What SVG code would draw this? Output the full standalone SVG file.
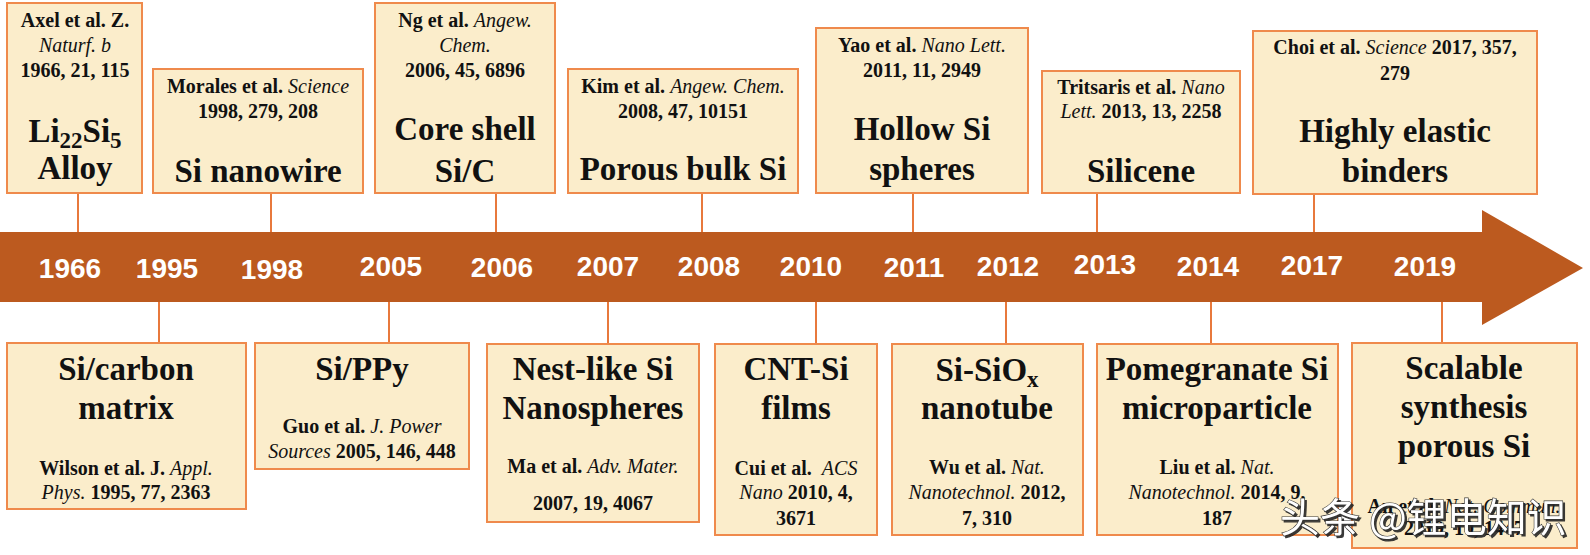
<svg xmlns="http://www.w3.org/2000/svg" width="1590" height="555" viewBox="0 0 1590 555">
<style>
.box{fill:#FBEDCB;stroke:#EF8A4C;stroke-width:2}
.con{stroke:#E8793C;stroke-width:2;fill:none}
.yr{font-family:"Liberation Sans",Arial,sans-serif;font-weight:bold;font-size:28px;fill:#FFFFFF;text-anchor:middle}
.ct{font-family:"Liberation Serif","Times New Roman",serif;font-weight:bold;font-size:20px;fill:#111;text-anchor:middle}
.ct .i{font-style:italic;font-weight:normal}
.tt{font-family:"Liberation Serif","Times New Roman",serif;font-weight:bold;font-size:33px;fill:#111;text-anchor:middle}
.wm{font-family:"Noto Sans CJK SC",sans-serif;font-size:40px;fill:#FFFFFF;stroke:#333333;stroke-width:1.2;paint-order:stroke}
</style>
<defs>
<filter id="sh" x="-5%" y="-20%" width="110%" height="140%">
<feDropShadow dx="2" dy="2" stdDeviation="0.6" flood-color="#222222" flood-opacity="0.9"/>
</filter>
</defs>
<rect width="1590" height="555" fill="#FFFFFF"/>
<g id="timeline">
<polygon points="0,232 1482,232 1482,210 1583,268 1482,325 1482,302 0,302" fill="#BC5A1F"/>
<text class="yr" x="70" y="278">1966</text>
<text class="yr" x="167" y="278">1995</text>
<text class="yr" x="272" y="279">1998</text>
<text class="yr" x="391" y="276">2005</text>
<text class="yr" x="502" y="277">2006</text>
<text class="yr" x="608" y="276">2007</text>
<text class="yr" x="709" y="276">2008</text>
<text class="yr" x="811" y="276">2010</text>
<text class="yr" x="914" y="277">2011</text>
<text class="yr" x="1008" y="276">2012</text>
<text class="yr" x="1105" y="274">2013</text>
<text class="yr" x="1208" y="276">2014</text>
<text class="yr" x="1312" y="275">2017</text>
<text class="yr" x="1425" y="276">2019</text>
</g>
<g id="connectors">
<line class="con" x1="78" y1="193" x2="78" y2="232"/>
<line class="con" x1="271" y1="193" x2="271" y2="232"/>
<line class="con" x1="496" y1="193" x2="496" y2="232"/>
<line class="con" x1="702" y1="193" x2="702" y2="232"/>
<line class="con" x1="913" y1="193" x2="913" y2="232"/>
<line class="con" x1="1097" y1="193" x2="1097" y2="232"/>
<line class="con" x1="1314" y1="194" x2="1314" y2="232"/>
<line class="con" x1="159" y1="302" x2="159" y2="343"/>
<line class="con" x1="389" y1="302" x2="389" y2="343"/>
<line class="con" x1="608" y1="302" x2="608" y2="344"/>
<line class="con" x1="816" y1="302" x2="816" y2="344"/>
<line class="con" x1="1006" y1="302" x2="1006" y2="344"/>
<line class="con" x1="1211" y1="302" x2="1211" y2="344"/>
<line class="con" x1="1442" y1="302" x2="1442" y2="343"/>
</g>
<g id="n1966">
<rect class="box" x="7" y="3" width="135" height="190"/>
<text class="ct" x="75" y="27">Axel et al. Z.</text>
<text class="ct" x="75" y="52"><tspan class="i">Naturf. b</tspan></text>
<text class="ct" x="75" y="77">1966, 21, 115</text>
<text class="tt" x="75" y="142">Li<tspan font-size="23" dy="6">22</tspan><tspan dy="-6">Si</tspan><tspan font-size="23" dy="6">5</tspan></text>
<text class="tt" x="75" y="179">Alloy</text>
</g>
<g id="n1998">
<rect class="box" x="153" y="69" width="210" height="124"/>
<text class="ct" x="258" y="93">Morales et al. <tspan class="i">Science</tspan></text>
<text class="ct" x="258" y="118">1998, 279, 208</text>
<text class="tt" x="258" y="182">Si nanowire</text>
</g>
<g id="n2006">
<rect class="box" x="375" y="3" width="180" height="190"/>
<text class="ct" x="465" y="27">Ng et al. <tspan class="i">Angew.</tspan></text>
<text class="ct" x="465" y="52"><tspan class="i">Chem.</tspan></text>
<text class="ct" x="465" y="77">2006, 45, 6896</text>
<text class="tt" x="465" y="140">Core shell</text>
<text class="tt" x="465" y="182">Si/C</text>
</g>
<g id="n2008">
<rect class="box" x="568" y="69" width="230" height="124"/>
<text class="ct" x="683" y="93">Kim et al. <tspan class="i">Angew. Chem.</tspan></text>
<text class="ct" x="683" y="118">2008, 47, 10151</text>
<text class="tt" x="683" y="180">Porous bulk Si</text>
</g>
<g id="n2011">
<rect class="box" x="816" y="28" width="212" height="165"/>
<text class="ct" x="922" y="52">Yao et al. <tspan class="i">Nano Lett.</tspan></text>
<text class="ct" x="922" y="77">2011, 11, 2949</text>
<text class="tt" x="922" y="140">Hollow Si</text>
<text class="tt" x="922" y="180">spheres</text>
</g>
<g id="n2013">
<rect class="box" x="1042" y="71" width="198" height="122"/>
<text class="ct" x="1141" y="94">Tritsaris et al. <tspan class="i">Nano</tspan></text>
<text class="ct" x="1141" y="118"><tspan class="i">Lett.</tspan> 2013, 13, 2258</text>
<text class="tt" x="1141" y="182">Silicene</text>
</g>
<g id="n2017">
<rect class="box" x="1253" y="31" width="284" height="163"/>
<text class="ct" x="1395" y="54">Choi et al. <tspan class="i">Science</tspan> 2017, 357,</text>
<text class="ct" x="1395" y="80">279</text>
<text class="tt" x="1395" y="142">Highly elastic</text>
<text class="tt" x="1395" y="182">binders</text>
</g>
<g id="n1995">
<rect class="box" x="7" y="343" width="239" height="166"/>
<text class="tt" x="126" y="380">Si/carbon</text>
<text class="tt" x="126" y="419">matrix</text>
<text class="ct" x="126" y="475">Wilson et al. J. <tspan class="i">Appl.</tspan></text>
<text class="ct" x="126" y="499"><tspan class="i">Phys.</tspan> 1995, 77, 2363</text>
</g>
<g id="n2005">
<rect class="box" x="255" y="343" width="214" height="126"/>
<text class="tt" x="362" y="380">Si/PPy</text>
<text class="ct" x="362" y="433">Guo et al. <tspan class="i">J. Power</tspan></text>
<text class="ct" x="362" y="458"><tspan class="i">Sources</tspan> 2005, 146, 448</text>
</g>
<g id="n2007">
<rect class="box" x="487" y="344" width="212" height="178"/>
<text class="tt" x="593" y="380">Nest-like Si</text>
<text class="tt" x="593" y="419">Nanospheres</text>
<text class="ct" x="593" y="473">Ma et al. <tspan class="i">Adv. Mater.</tspan></text>
<text class="ct" x="593" y="510">2007, 19, 4067</text>
</g>
<g id="n2010">
<rect class="box" x="715" y="344" width="162" height="191"/>
<text class="tt" x="796" y="380">CNT-Si</text>
<text class="tt" x="796" y="419">films</text>
<text class="ct" x="796" y="475" xml:space="preserve">Cui et al.  <tspan class="i">ACS</tspan></text>
<text class="ct" x="796" y="499"><tspan class="i">Nano</tspan> 2010, 4,</text>
<text class="ct" x="796" y="525">3671</text>
</g>
<g id="n2012">
<rect class="box" x="892" y="344" width="191" height="191"/>
<text class="tt" x="987" y="381">Si-SiO<tspan font-size="23" dy="6">x</tspan></text>
<text class="tt" x="987" y="419">nanotube</text>
<text class="ct" x="987" y="474">Wu et al. <tspan class="i">Nat.</tspan></text>
<text class="ct" x="987" y="499"><tspan class="i">Nanotechnol.</tspan> 2012,</text>
<text class="ct" x="987" y="525">7, 310</text>
</g>
<g id="n2014">
<rect class="box" x="1097" y="344" width="241" height="191"/>
<text class="tt" x="1217" y="380">Pomegranate Si</text>
<text class="tt" x="1217" y="419">microparticle</text>
<text class="ct" x="1217" y="474">Liu et al. <tspan class="i">Nat.</tspan></text>
<text class="ct" x="1217" y="499"><tspan class="i">Nanotechnol.</tspan> 2014, 9,</text>
<text class="ct" x="1217" y="525">187</text>
</g>
<g id="n2019">
<rect class="box" x="1352" y="343" width="225" height="205"/>
<text class="tt" x="1464" y="379">Scalable</text>
<text class="tt" x="1464" y="418">synthesis</text>
<text class="tt" x="1464" y="457">porous Si</text>
<text class="ct" x="1464" y="513">An et al. <tspan class="i">Nat. Commun.</tspan></text>
<text class="ct" x="1464" y="535">2019, 10, 1447</text>
</g>
<g id="watermark">
<text class="wm" x="1280" y="532" filter="url(#sh)">头条 @锂电知识</text>
</g>
</svg>
